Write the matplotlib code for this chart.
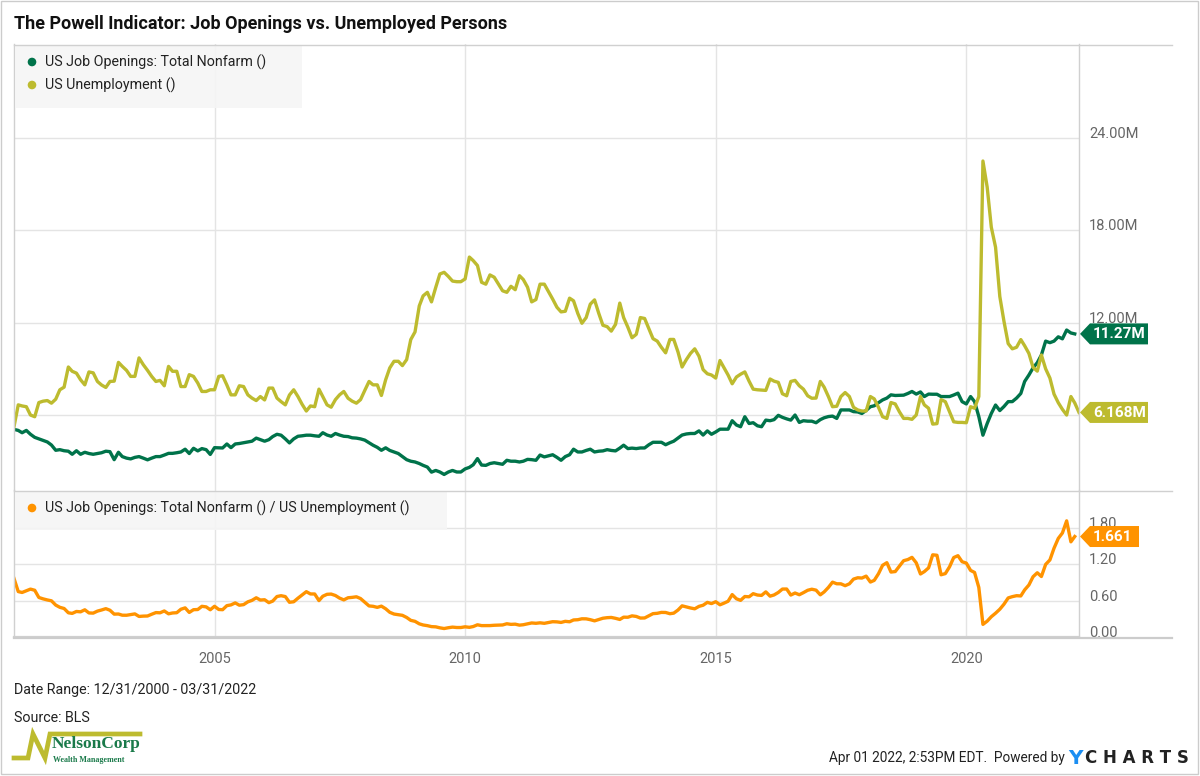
import numpy as np
import pandas as pd
import matplotlib
matplotlib.use('Agg')
import matplotlib.pyplot as plt
import matplotlib.dates as mdates
from matplotlib.patches import Polygon, Rectangle, Circle
from datetime import datetime

plt.rcParams['font.family'] = ['Roboto', 'DejaVu Sans']

# monthly, month end, Dec 2000 .. Mar 2022
dates = pd.date_range('2000-12-31', '2022-03-31', freq='ME')

# US Job Openings: Total Nonfarm (millions), Dec 2000 .. Feb 2022
openings = [
    5.07,
    5.00, 4.85, 5.00, 4.75, 4.55, 4.45, 4.35, 4.25, 4.05, 3.71, 3.75, 3.68,   # 2001
    3.65, 3.45, 3.68, 3.45, 3.58, 3.50, 3.45, 3.50, 3.55, 3.65, 3.62, 3.10,   # 2002
    3.58, 3.30, 3.20, 3.15, 3.25, 3.30, 3.20, 3.09, 3.20, 3.30, 3.30, 3.40,   # 2003
    3.51, 3.51, 3.55, 3.60, 3.78, 3.50, 3.84, 3.67, 3.82, 3.75, 3.44, 3.88,   # 2004
    3.87, 3.86, 4.12, 3.88, 4.12, 4.15, 4.20, 4.25, 4.30, 4.50, 4.40, 4.30,   # 2005
    4.40, 4.60, 4.75, 4.69, 4.45, 4.19, 4.45, 4.62, 4.65, 4.69, 4.69, 4.65,   # 2006
    4.62, 4.85, 4.70, 4.62, 4.80, 4.70, 4.62, 4.60, 4.52, 4.50, 4.45, 4.37,   # 2007
    4.20, 4.04, 3.90, 3.71, 3.87, 3.70, 3.60, 3.50, 3.30, 3.10, 3.00, 2.95,   # 2008
    2.85, 2.73, 2.62, 2.29, 2.40, 2.30, 2.14, 2.30, 2.40, 2.30, 2.30, 2.50,   # 2009
    2.60, 2.77, 3.17, 2.75, 2.73, 2.85, 2.90, 2.85, 2.80, 3.06, 3.00, 3.00,   # 2010
    2.95, 3.00, 3.12, 3.10, 3.06, 3.40, 3.28, 3.35, 3.42, 3.25, 3.06, 3.30,   # 2011
    3.42, 3.78, 3.60, 3.60, 3.70, 3.78, 3.60, 3.65, 3.67, 3.75, 3.70, 3.67,   # 2012
    3.85, 4.04, 3.82, 3.85, 3.82, 3.86, 3.86, 4.07, 4.23, 4.23, 4.23, 4.07,   # 2013
    4.20, 4.30, 4.50, 4.70, 4.77, 4.80, 4.80, 4.97, 4.70, 4.97, 4.75, 4.90,   # 2014
    5.08, 5.08, 5.08, 5.63, 5.35, 5.24, 5.89, 5.45, 5.50, 5.30, 5.24, 5.67,   # 2015
    5.63, 5.70, 5.98, 5.85, 5.75, 5.67, 6.00, 5.52, 5.63, 5.60, 5.60, 5.50,   # 2016
    5.70, 5.82, 5.90, 5.93, 5.78, 6.33, 6.33, 6.33, 6.22, 6.20, 6.10, 6.30,   # 2017
    6.54, 6.60, 6.80, 6.98, 7.10, 7.31, 7.27, 7.28, 7.29, 7.40, 7.53, 7.36,   # 2018
    7.50, 7.20, 7.36, 7.35, 7.35, 7.20, 7.20, 7.20, 7.30, 7.42, 6.87, 6.72,   # 2019
    7.20, 6.87, 5.90, 4.69, 5.45, 6.10, 6.65, 6.29, 6.55, 6.87, 6.87, 7.10,   # 2020
    7.40, 8.18, 8.60, 9.06, 9.40, 9.90, 10.80, 10.70, 10.80, 11.08, 10.95, 11.52,  # 2021
    11.33, 11.27,                                                              # 2022
]

# US Unemployment (millions), Dec 2000 .. Mar 2022
unemployment = [
    5.24,
    6.66, 6.59, 6.54, 6.00, 5.89, 6.81, 6.90, 6.94, 6.77, 7.03, 7.64, 7.81,   # 2001
    9.12, 8.84, 8.72, 8.29, 7.96, 8.80, 8.74, 8.18, 7.95, 7.79, 8.18, 8.20,   # 2002
    9.42, 9.16, 8.90, 8.51, 8.51, 9.71, 9.27, 8.90, 8.51, 8.18, 8.25, 7.90,   # 2003
    9.16, 8.84, 8.84, 7.85, 7.85, 8.62, 8.51, 8.08, 7.53, 7.53, 7.64, 7.64,   # 2004
    8.51, 8.55, 7.95, 7.31, 7.31, 7.90, 7.85, 7.31, 7.10, 6.94, 7.20, 6.98,   # 2005
    7.75, 7.75, 7.10, 6.87, 6.66, 7.30, 7.64, 7.20, 6.70, 6.26, 6.59, 6.54,   # 2006
    7.68, 7.20, 6.66, 6.51, 7.00, 7.31, 7.53, 7.09, 6.90, 6.77, 7.00, 7.60,   # 2007
    8.18, 7.96, 7.96, 7.27, 8.29, 9.06, 9.49, 9.49, 9.21, 9.60, 10.90, 11.40, # 2008
    13.09, 13.74, 13.97, 13.35, 14.29, 15.16, 15.27, 15.00, 14.70, 14.66, 14.66, 14.84,  # 2009
    16.26, 16.03, 15.71, 14.62, 14.50, 15.10, 14.95, 14.50, 14.07, 13.97, 14.36, 14.14,  # 2010
    15.05, 14.80, 14.30, 13.35, 13.50, 14.50, 14.50, 14.00, 13.53, 13.00, 12.70, 12.74,  # 2011
    13.59, 13.42, 12.60, 11.96, 12.33, 13.20, 13.48, 12.60, 11.83, 11.74, 11.45, 11.89,  # 2012
    13.27, 12.33, 11.70, 11.02, 11.24, 12.33, 12.27, 11.60, 10.96, 10.80, 10.40, 10.04,  # 2013
    10.91, 10.91, 10.10, 9.12, 9.60, 10.00, 10.30, 9.82, 8.95, 8.68, 8.60, 8.40,         # 2014
    9.54, 9.10, 8.60, 8.03, 8.47, 8.65, 8.80, 8.20, 7.68, 7.64, 7.62, 7.60,   # 2015
    8.34, 8.20, 8.12, 7.38, 7.25, 8.18, 8.25, 7.90, 7.68, 7.25, 7.09, 7.10,   # 2016
    8.18, 7.81, 7.20, 6.54, 6.57, 7.20, 7.46, 7.20, 6.50, 6.33, 6.26, 6.26,   # 2017
    7.20, 7.05, 6.50, 5.89, 5.78, 6.81, 6.72, 6.20, 5.78, 5.78, 5.72, 6.00,   # 2018
    7.20, 6.66, 6.44, 5.41, 5.44, 7.00, 6.87, 6.20, 5.56, 5.52, 5.52, 5.50,   # 2019
    6.54, 6.44, 7.20, 22.50, 20.80, 18.20, 16.90, 13.70, 12.10, 10.64, 10.30, 10.40,  # 2020
    10.90, 10.50, 10.00, 9.10, 8.85, 9.90, 9.00, 8.40, 7.36, 6.80, 6.37, 6.00,        # 2021
    7.20, 6.785, 6.168,                                                                # 2022
]

ratio = np.array(openings) / np.array(unemployment[:len(openings)])

top_ticks = [6, 12, 18, 24]
bot_ticks = [0.0, 0.6, 1.2, 1.8]
year_ticks = [2005, 2010, 2015, 2020]

green = '#00734a'
yellow = '#bdbb2f'
orange = '#ff9300'
gridc = '#e4e4e4'
framec = '#d0d0d0'
labelc = '#666666'

W, H = 1200, 776
fig = plt.figure(figsize=(12, 7.76), dpi=100)


def frac(x0, y0, x1, y1):
    return [x0 / W, 1 - y1 / H, (x1 - x0) / W, (y1 - y0) / H]


L, R = 14, 1079
ax1 = fig.add_axes(frac(L, 44, R, 490))
ax2 = fig.add_axes(frac(L, 490, R, 637), sharex=ax1)

ax1.plot(dates[:len(openings)], openings, color=green, lw=2.4, solid_joinstyle='round')
ax1.plot(dates, unemployment, color=yellow, lw=2.4, solid_joinstyle='round')
ax2.plot(dates[:len(ratio)], ratio, color=orange, lw=2.4, solid_joinstyle='round')

ax1.set_ylim(1.13, 30.1)
ax2.set_ylim(0, 2.43)
ax1.set_xlim(dates[0], dates[-1])

for ax, ticks in ((ax1, top_ticks), (ax2, bot_ticks)):
    ax.set_yticks(ticks)
    ax.set_xticks([datetime(y, 1, 1) for y in year_ticks])
    ax.grid(True, color=gridc, lw=1)
    ax.set_axisbelow(True)
    ax.tick_params(axis='y', length=0, labelleft=False, labelright=False)
    ax.tick_params(axis='x', length=0)
    ax.spines['top'].set_visible(False)
    for s in ('left', 'right', 'bottom'):
        ax.spines[s].set_color(framec)
        ax.spines[s].set_linewidth(1)
    ax.set_facecolor('none')

ax1.spines['bottom'].set_visible(False)
ax1.tick_params(axis='x', labelbottom=False)
ax2.spines['bottom'].set_linewidth(1.6)
ax2.xaxis.set_major_formatter(mdates.DateFormatter('%Y'))
ax2.tick_params(axis='x', pad=11, labelsize=10.5, labelcolor=labelc)

xoff = 1 + 10 / (R - L)
for v in top_ticks:
    ax1.text(xoff, v, '%.2fM' % v, transform=ax1.get_yaxis_transform(),
             ha='left', va='baseline', fontsize=10.5, color=labelc)
for v in bot_ticks:
    ax2.text(xoff, v, '%.2f' % v, transform=ax2.get_yaxis_transform(),
             ha='left', va='baseline', fontsize=10.5, color=labelc)

# overlay in pixel coordinates
oax = fig.add_axes([0, 0, 1, 1])
oax.set_xlim(0, W)
oax.set_ylim(H, 0)
oax.axis('off')

oax.add_patch(Rectangle((1, 1), W - 3, H - 3, fill=False, ec='#cccccc', lw=1))
oax.plot([L, 1172], [44.5, 44.5], color=framec, lw=1)
oax.plot([L, 1172], [490.5, 490.5], color=framec, lw=1)
oax.plot([L, 1172], [637.5, 637.5], color='#cccccc', lw=1.6)

oax.text(14, 24, 'The Powell Indicator: Job Openings vs. Unemployed Persons',
         fontsize=13, weight='bold', va='center', color='#111111')

# legends
oax.add_patch(Rectangle((L + 1, 45), 287, 63, fc='#f5f5f5', ec='none', alpha=0.9))
oax.add_patch(Circle((32, 62), 3.6, color=green))
oax.text(45, 62, 'US Job Openings: Total Nonfarm ()', va='center', fontsize=10.3, color='#222222')
oax.add_patch(Circle((32, 85), 3.6, color=yellow))
oax.text(45, 85, 'US Unemployment ()', va='center', fontsize=10.3, color='#222222')

oax.add_patch(Rectangle((L + 1, 491), 432, 39, fc='#f5f5f5', ec='none', alpha=0.9))
oax.add_patch(Circle((32, 508), 3.6, color=orange))
oax.text(45, 508, 'US Job Openings: Total Nonfarm () / US Unemployment ()',
         va='center', fontsize=10.3, color='#222222')


def to_px(ax, d, v):
    p = ax.transData.transform((mdates.date2num(d), v))
    return oax.transData.inverted().transform(p)[1]


def tag(yc, text, color, right):
    pts = [(1080, yc), (1090, yc - 10.5), (right, yc - 10.5), (right, yc + 10.5), (1090, yc + 10.5)]
    oax.add_patch(Polygon(pts, closed=True, fc=color, ec='none'))
    oax.text(1093, yc + 0.5, text, va='center', ha='left', fontsize=11,
             weight='bold', color='white')


tag(to_px(ax1, dates[len(openings) - 1], openings[-1]), '%.4gM' % openings[-1], green, 1148)
tag(to_px(ax1, dates[-1], unemployment[-1]), '%.4gM' % unemployment[-1], yellow, 1148)
tag(to_px(ax2, dates[len(ratio) - 1], ratio[-1]), '%.4g' % ratio[-1], orange, 1139)

# footer
oax.text(14, 690, 'Date Range: 12/31/2000 - 03/31/2022', va='center', fontsize=10.3, color='#222222')
oax.text(14, 718, 'Source: BLS', va='center', fontsize=10.3, color='#222222')

oax.plot([14, 28, 33, 45, 50, 140], [758, 758, 734, 758, 734, 734],
         color=yellow, lw=3.4, solid_joinstyle='miter')
oax.text(52, 748, 'NelsonCorp', fontsize=12.5, weight='bold', color='#1a7a4a',
         family=['Liberation Serif', 'DejaVu Serif'], va='baseline')
oax.text(53, 762, 'Wealth Management', fontsize=5.8, weight='bold', color='#1a7a4a',
         family=['Liberation Serif', 'DejaVu Serif'], va='baseline')

oax.text(1065, 758, 'Apr 01 2022, 2:53PM EDT.  Powered by', ha='right', va='center',
         fontsize=9.8, color='#222222')
oax.text(1068, 758, 'Y', ha='left', va='center', fontsize=14.5, weight='bold',
         color='#1b8ef2', family=['DejaVu Sans'])
oax.text(1085, 758, 'C H A R T S', ha='left', va='center', fontsize=12, weight='bold',
         color='#222222', family=['DejaVu Sans'])

fig.savefig('out.png', dpi=100, facecolor='white')
